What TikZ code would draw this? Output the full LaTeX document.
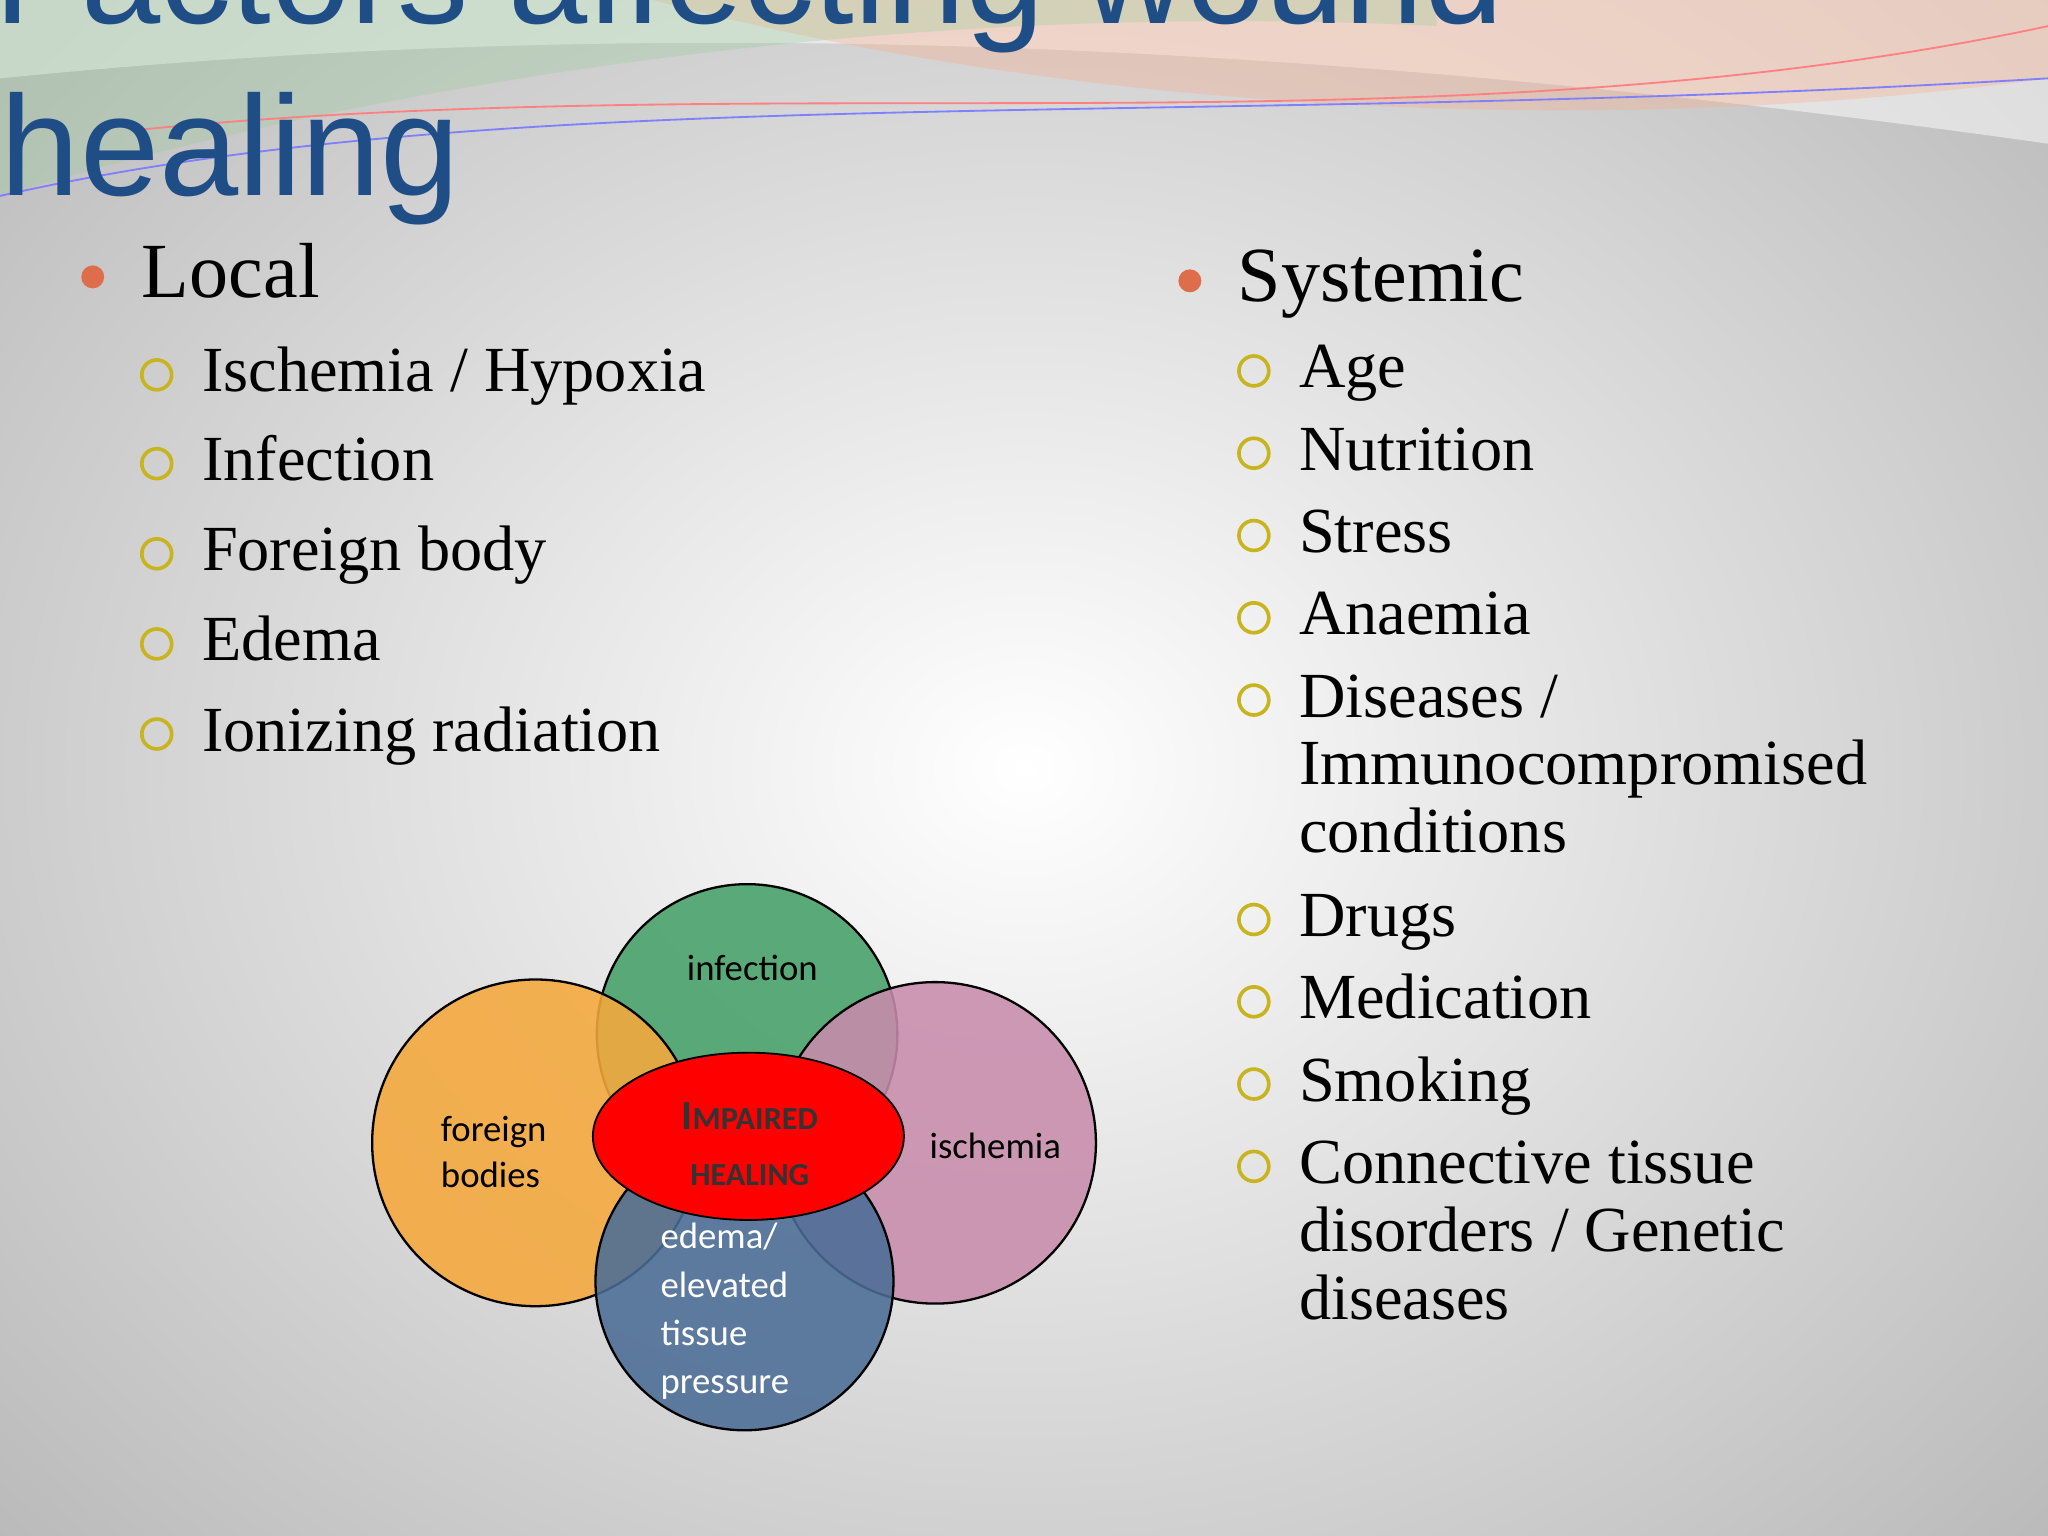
\documentclass[tikz,border=0pt]{standalone}
\usepackage{fontspec}
\setmainfont{Liberation Serif}
\newfontfamily\titlefont{Liberation Sans}
\newfontfamily\vennfont{Carlito}
\usetikzlibrary{positioning,shapes.geometric}
\definecolor{titleblue}{RGB}{31,78,135}
\definecolor{dotorange}{RGB}{222,110,75}
\definecolor{ringyellow}{RGB}{200,180,30}
\definecolor{vgreen}{RGB}{70,160,105}
\definecolor{vorange}{RGB}{245,168,60}
\definecolor{vpink}{RGB}{200,140,172}
\definecolor{vblue}{RGB}{75,108,150}
\tikzset{
  titletext/.style={text=titleblue, font=\titlefont\fontsize{31}{32}\selectfont, anchor=base west, inner sep=0pt},
  top/.style={font=\fontsize{17}{20}\selectfont, anchor=base west, inner sep=0pt},
  sub/.style={font=\fontsize{14}{15}\selectfont, anchor=base west, inner sep=0pt},
  dot/.style={circle, fill=dotorange, minimum size=5pt, inner sep=0pt},
  ring/.style={circle, draw=ringyellow, line width=0.8pt, minimum size=6.5pt, inner sep=0pt},
  venn/.style={circle, draw=black, line width=0.5pt, fill opacity=0.88, inner sep=0pt},
  vlabel/.style={font=\vennfont\fontsize{8}{10}\selectfont, align=left},
}
\begin{document}
\begin{tikzpicture}[x=0.01cm, y=-0.01cm]
	\useasboundingbox (0,0) rectangle (1568,1176);
	% background
	\shade[inner color=white, outer color=gray!55] (-300,-300) rectangle (1868,1476);
	\fill[white, opacity=0.5] (0,0) -- (0,60) .. controls (500,10) and (1000,30) .. (1568,110) -- (1568,0) -- cycle;
	\fill[red!40!orange!50, opacity=0.3] (500,0) .. controls (800,80) and (1200,110) .. (1568,60) -- (1568,0) -- cycle;
	\fill[green!35!gray!60, opacity=0.3] (0,0) -- (0,150) .. controls (300,60) and (700,0) .. (1100,20) -- (1100,0) -- cycle;
	\draw[blue!50, thin] (0,150) .. controls (400,60) and (900,100) .. (1568,60);
	\draw[red!50, thin] (100,100) .. controls (600,50) and (1100,120) .. (1568,20);
	% title
	\node[titletext] (title1) at (-5,18) {Factors affecting wound};
	\node[titletext] (title2) at (0,150) {healing};
	% local
	\node[dot] (dl) at (71,212) {};
	\node[top] (local) at (108,228) {Local};
	\foreach \y/\t [count=\i] in {300/{Ischemia / Hypoxia}, 368/Infection, 437/Foreign body, 506/Edema, 575/Ionizing radiation}
	{
		\node[ring] (rl\i) at (120,\y-13) {};
		\node[sub] (l\i) at (154,\y) {\t};
	}
	% systemic
	\node[dot] (ds) at (911,215) {};
	\node[top] (sys) at (947,231) {Systemic};
	\foreach \y/\t [count=\i] in {297/Age, 360/Nutrition, 423/Stress, 486/Anaemia, 549/{Diseases /}, 717/Drugs, 780/Medication, 843/Smoking, 906/Connective tissue}
	{
		\node[ring] (rs\i) at (960,\y-13) {};
		\node[sub] (s\i) at (994,\y) {\t};
	}
	\node[sub] (s5b) at (994,601) {Immunocompromised};
	\node[sub] (s5c) at (994,653) {conditions};
	\node[sub] (s9b) at (994,958) {disorders / Genetic};
	\node[sub] (s9c) at (994,1010) {diseases};
	% venn
	\node[venn, fill=vgreen, minimum size=2.3cm] (infection) at (572,792) {};
	\node[venn, fill=vorange, minimum size=2.5cm] (foreign) at (410,875) {};
	\node[venn, fill=vpink, minimum size=2.46cm] (ischemia) at (716,875) {};
	\node[venn, fill=vblue, minimum size=2.28cm] (edema) at (570,981) {};
	\node[ellipse, draw=black, fill=red, minimum width=2.38cm, minimum height=1.28cm] (impaired) at (573,870) {};
	\node[vlabel] (tinf) at (576,741) {infection};
	\node[vlabel] (tfor) at (378,882) {foreign\\bodies};
	\node[vlabel] (tisc) at (762,877) {ischemia};
	\node[vlabel, font=\vennfont\fontsize{8}{10.5}\selectfont, text=white, anchor=north west, inner sep=0pt] (tede) at (505,936) {edema/\\elevated\\tissue\\pressure};
	\node[font=\vennfont\bfseries\fontsize{7}{12}\selectfont, align=center, text=black!80] (timp) at (574,876) {{\fontsize{9}{12}\selectfont I}MPAIRED\\HEALING};
\end{tikzpicture}
\end{document}
